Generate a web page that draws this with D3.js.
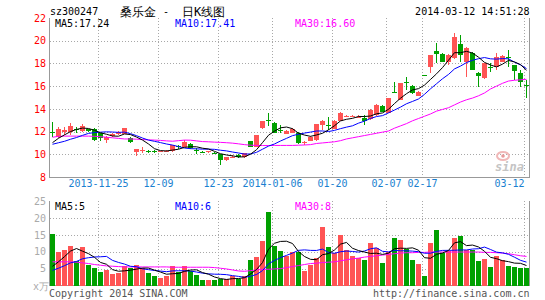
<!DOCTYPE html>
<html><head><meta charset="utf-8">
<script src="https://cdn.jsdelivr.net/npm/d3@7"></script>
<style>
html,body{margin:0;padding:0;background:#fff;}
svg{display:block;}
text{font-family:"DejaVu Sans Mono","Liberation Mono",monospace;}
</style></head><body>
<svg id="chart" width="545" height="300"></svg>
<script>
const dates = [
"2013-11-13","2013-11-14","2013-11-15","2013-11-18","2013-11-19","2013-11-20","2013-11-21","2013-11-22","2013-11-25","2013-11-26",
"2013-11-27","2013-11-28","2013-11-29","2013-12-02","2013-12-03","2013-12-04","2013-12-05","2013-12-06","2013-12-09","2013-12-10",
"2013-12-11","2013-12-12","2013-12-13","2013-12-16","2013-12-17","2013-12-18","2013-12-19","2013-12-20","2013-12-23","2013-12-24",
"2013-12-25","2013-12-26","2013-12-27","2013-12-30","2013-12-31","2014-01-02","2014-01-03","2014-01-06","2014-01-07","2014-01-08",
"2014-01-09","2014-01-10","2014-01-13","2014-01-14","2014-01-15","2014-01-16","2014-01-17","2014-01-20","2014-01-21","2014-01-22",
"2014-01-23","2014-01-24","2014-01-27","2014-01-28","2014-01-29","2014-01-30","2014-02-07","2014-02-10","2014-02-11","2014-02-12",
"2014-02-13","2014-02-14","2014-02-17","2014-02-18","2014-02-19","2014-02-20","2014-02-21","2014-02-24","2014-02-25","2014-02-26",
"2014-02-27","2014-02-28","2014-03-03","2014-03-04","2014-03-05","2014-03-06","2014-03-07","2014-03-10","2014-03-11","2014-03-12"];

const opens = [
11.97,11.55,11.95,12.00,12.25,12.08,12.20,12.20,11.85,11.30,
11.65,11.75,11.80,11.40,10.23,10.35,10.27,10.25,10.22,10.23,
10.28,10.75,10.62,10.90,10.35,10.20,10.20,10.15,10.00,9.50,
9.75,9.94,9.75,11.17,10.67,12.29,13.05,12.73,12.16,11.80,
11.90,11.85,10.95,11.20,11.30,12.60,12.55,12.23,12.96,13.33,
13.33,13.28,13.17,13.08,13.46,14.25,13.65,15.45,14.80,16.37,
16.00,15.16,17.00,17.71,19.10,18.80,18.15,18.45,19.70,18.15,
18.90,17.20,16.70,17.65,17.71,18.15,18.56,17.86,17.13,16.12];
const highs = [
12.87,12.38,12.38,12.78,12.38,12.64,12.25,12.29,11.90,11.60,
11.90,12.05,12.35,11.55,10.50,10.67,10.40,10.38,10.32,10.38,
10.85,10.80,11.26,11.00,10.55,10.30,10.32,10.20,10.05,9.80,
9.90,10.00,10.15,11.20,11.72,12.95,13.60,12.80,12.60,12.10,
12.35,11.95,11.20,11.60,12.70,13.00,13.30,13.00,13.75,13.50,
13.45,13.50,13.45,13.95,14.40,14.30,14.95,16.34,16.30,16.80,
16.10,15.55,17.00,18.78,19.77,18.90,18.80,20.70,20.50,19.45,
19.00,17.25,18.05,18.00,18.95,18.70,19.18,17.90,17.40,16.54];
const lows = [
11.50,11.45,11.70,11.70,11.85,11.94,11.95,11.17,11.20,11.00,
11.50,11.70,11.75,11.02,9.88,10.09,10.10,10.10,10.18,10.20,
10.20,10.50,10.60,10.50,10.05,10.10,10.15,10.00,9.06,9.45,
9.70,9.70,9.70,10.60,10.60,12.25,12.50,11.85,11.85,11.75,
11.85,10.90,10.85,11.15,11.20,12.15,12.15,12.20,12.90,13.25,
13.30,13.20,12.60,13.00,13.40,13.70,13.60,15.37,14.75,15.70,
15.35,15.10,16.95,17.20,18.00,18.10,17.85,18.40,18.15,16.80,
17.40,15.95,16.60,17.27,17.42,18.10,17.71,16.54,15.95,14.98];
const closes = [
11.92,12.23,12.10,12.49,12.20,12.52,12.05,11.30,11.40,11.55,
11.75,11.95,12.30,11.12,10.47,10.42,10.23,10.22,10.28,10.32,
10.80,10.60,11.06,10.55,10.30,10.17,10.25,10.03,9.50,9.74,
9.80,9.75,10.09,10.67,11.70,12.93,13.00,11.90,12.12,12.05,
12.20,11.00,11.10,11.55,12.65,12.95,12.50,12.93,13.66,13.37,
13.37,13.32,12.90,13.90,14.34,13.75,14.93,15.42,16.25,16.33,
15.40,15.50,16.98,18.74,18.80,18.15,18.74,20.30,18.74,19.39,
17.42,16.90,18.00,17.60,18.54,18.65,18.52,17.36,16.40,16.08];
const volumes = [
15.3,9.8,10.6,11.7,7.3,11.4,6.1,5.2,4.1,4.6,
3.5,3.7,5.8,5.1,6.1,5.1,3.7,2.7,2.3,2.9,
5.8,4.1,5.8,4.3,3.2,1.7,1.7,1.7,1.9,1.9,
2.9,1.9,2.9,7.6,8.3,13.2,21.7,11.7,10.3,8.6,
9.8,9.9,4.3,6.1,8.1,17.2,11.5,9.6,14.8,10.6,
8.6,8.1,7.4,12.7,11.0,6.8,9.9,14.0,13.5,10.7,
7.6,6.4,2.9,12.7,16.5,9.6,10.1,14.2,14.5,10.6,
10.4,7.3,7.8,5.6,8.6,7.4,5.9,5.6,5.3,5.3];
// closes / volumes of the 9 sessions before the window (estimated from the MA lines' start)
const priorCloses = [10.9,10.8,10.7,10.7,10.6,10.3,10.6,11.05,11.25];
const priorVolumes = [3.5,3.0,3.5,3.0,3.5,3.0,3.0,3.5,3.5];
// 30-day averages
const priceMA30 = [
11.50,11.58,11.60,11.60,11.60,11.60,11.60,11.58,11.55,11.50,
11.45,11.40,11.35,11.35,11.33,11.30,11.27,11.25,11.22,11.18,
11.15,11.20,11.25,11.24,11.18,11.12,11.10,11.07,11.05,11.02,
10.98,10.92,10.85,10.80,10.78,10.77,10.77,10.78,10.78,10.78,
10.78,10.80,10.82,10.85,10.95,11.00,11.05,11.10,11.20,11.35,
11.45,11.55,11.65,11.75,11.85,11.95,12.05,12.30,12.50,12.70,
12.95,13.15,13.35,13.55,13.80,13.95,14.10,14.35,14.60,14.80,
14.95,15.15,15.40,15.75,16.00,16.25,16.45,16.52,16.56,16.60];
const volumeMA30 = [
7.0,7.0,7.0,7.0,6.9,6.7,6.5,6.2,6.0,5.8,
5.7,5.6,5.5,5.5,5.5,5.5,5.5,5.5,5.5,5.5,
5.4,5.4,5.4,5.4,5.4,5.4,5.4,5.3,5.1,4.9,
4.6,4.3,4.2,4.4,4.6,4.8,4.8,4.9,5.0,5.3,
5.6,5.9,6.2,6.5,6.6,6.8,6.9,7.0,7.3,7.6,
7.9,8.1,8.4,8.6,8.8,9.0,9.2,9.4,9.6,9.7,
9.7,9.8,9.8,9.9,9.9,9.9,9.9,9.9,9.9,9.9,
9.9,9.9,9.8,9.8,9.7,9.6,9.4,9.1,8.8,8.6];

const dateTicks = ["2013-11-25","2013-12-09","2013-12-23","2014-01-06","2014-01-20","2014-02-07","2014-02-17","2014-03-12"];
const dateTickLabels = ["2013-11-25","12-09","12-23","2014-01-06","01-20","02-07","02-17","03-12"];
const priceTicks = [8,10,12,14,16,18,20,22];
const priceGrid = [10,12,14,16,18,20];
const volumeTicks = [5,10,15,20,25];
const volumeGrid = [5,10,15,20];

const priceLegend = ["MA5:17.24","MA10:17.41","MA30:16.60"];
const volumeLegend = ["MA5:5","MA10:6","MA30:8"];

const RED = "#ff5454", GREEN = "#00a000", GRID = "#a8a8a8", AXIS = "#999";
const MA5_COLOR = "#000000", MA10_COLOR = "#0000ff", MA30_COLOR = "#ff00ff";
const LEGEND_COLORS = [MA5_COLOR, MA10_COLOR, MA30_COLOR];

const svg = d3.select("#chart");
const L = 49.5, R = 529.5;
const x = d3.scaleBand().domain(dates).range([50, 529]).paddingInner(1/6).paddingOuter(0);
const yP = d3.scaleLinear().domain([8,22]).range([177, 18]);
const yV = d3.scaleLinear().domain([0,25]).range([285.5, 201]);
const cx = d => x(d) + 2.5;

function movingAvg(prior, vals, n) {
  const all = prior.concat(vals);
  return vals.map((v, i) => {
    const end = i + prior.length;
    return d3.mean(all.slice(end - n + 1, end + 1));
  });
}
const pMA5 = movingAvg(priorCloses, closes, 5);
const pMA10 = movingAvg(priorCloses, closes, 10);
const vMA5 = movingAvg(priorVolumes, volumes, 5);
const vMA10 = movingAvg(priorVolumes, volumes, 10);

function panel(y, top, bottom, gridVals, ticks, tickColor) {
  const hg = svg.append("g").attr("transform", `translate(${L},0)`)
    .call(d3.axisLeft(y).tickValues(gridVals).tickSize(-(R - L)).tickFormat(""));
  hg.select(".domain").remove();
  hg.selectAll("line").attr("stroke", GRID).attr("stroke-dasharray", "1,2").attr("shape-rendering","crispEdges");
  const vg = svg.append("g").attr("transform", `translate(-2,${bottom})`)
    .call(d3.axisBottom(x).tickValues(dateTicks).tickSize(-(bottom - top)).tickFormat(""));
  vg.select(".domain").remove();
  vg.selectAll("line").attr("stroke", GRID).attr("stroke-dasharray", "1,2").attr("shape-rendering","crispEdges");
  const ya = svg.append("g").attr("transform", `translate(${L},0)`)
    .call(d3.axisLeft(y).tickValues(ticks).tickSize(0).tickPadding(3.5));
  ya.select(".domain").remove();
  ya.selectAll("text").attr("fill", tickColor).attr("font-size", 10)
    .attr("font-family", '"DejaVu Sans Mono",monospace');
  svg.append("path").attr("d", `M${L},${top}V${bottom}H${R}V${top}`)
    .attr("fill","none").attr("stroke", AXIS).attr("stroke-width",1).attr("shape-rendering","crispEdges");
}

panel(yP, 18, 177.5, priceGrid, priceTicks, "#ff0000");
panel(yV, 201, 285.5, volumeGrid, volumeTicks, "#aaaaaa");

// date labels
const xa = svg.append("g").attr("transform", `translate(-2,177)`)
  .call(d3.axisBottom(x).tickValues(dateTicks).tickSize(0).tickPadding(3)
    .tickFormat(d => dateTickLabels[dateTicks.indexOf(d)]));
xa.select(".domain").remove();
xa.selectAll("text").attr("fill", "#1a7fd0").attr("font-size", 10)
  .attr("font-family", '"DejaVu Sans Mono",monospace')
  .attr("text-anchor", (d, i) => i === dateTicks.length - 1 ? "end" : "middle");

// watermark
const wm = svg.append("g");
wm.append("ellipse").attr("cx", 503).attr("cy", 156).attr("rx", 6).attr("ry", 4)
  .attr("fill","none").attr("stroke","#f0b8b8").attr("stroke-width",2);
wm.append("circle").attr("cx", 503).attr("cy", 156).attr("r", 1.8).attr("fill","#e89a9a");
wm.append("text").attr("x", 495).attr("y", 171).attr("font-size", 12).attr("font-style","italic")
  .attr("font-weight","bold").attr("fill","#c4c4c4").attr("font-family","'DejaVu Sans',sans-serif").text("sina");

// candles
const idx = d3.range(dates.length);
const up = i => closes[i] >= opens[i];
const cg = svg.append("g");
cg.selectAll("line").data(idx).join("line")
  .attr("x1", i => cx(dates[i])).attr("x2", i => cx(dates[i]))
  .attr("y1", i => Math.round(yP(highs[i]))).attr("y2", i => Math.round(yP(lows[i])))
  .attr("stroke", i => up(i) ? RED : GREEN).attr("stroke-width", 1);
cg.selectAll("rect").data(idx).join("rect")
  .attr("x", i => x(dates[i])).attr("width", x.bandwidth())
  .attr("y", i => Math.round(yP(Math.max(opens[i], closes[i]))))
  .attr("height", i => Math.max(1, Math.round(yP(Math.min(opens[i], closes[i]))) - Math.round(yP(Math.max(opens[i], closes[i])))))
  .attr("fill", i => up(i) ? RED : GREEN).attr("shape-rendering","crispEdges");

// volume bars
svg.append("g").selectAll("rect").data(idx).join("rect")
  .attr("x", i => x(dates[i])).attr("width", x.bandwidth())
  .attr("y", i => Math.round(yV(volumes[i])))
  .attr("height", i => Math.round(yV(0)) - Math.round(yV(volumes[i])))
  .attr("fill", i => up(i) ? RED : GREEN).attr("shape-rendering","crispEdges");

// MA lines
function drawLine(s, y, color) {
  const line = d3.line().x((v, i) => cx(dates[i])).y(v => y(v));
  svg.append("path").datum(s).attr("d", line)
    .attr("fill","none").attr("stroke", color).attr("stroke-width", 1);
}
drawLine(priceMA30, yP, MA30_COLOR);
drawLine(pMA10, yP, MA10_COLOR);
drawLine(pMA5, yP, MA5_COLOR);
drawLine(volumeMA30, yV, MA30_COLOR);
drawLine(vMA10, yV, MA10_COLOR);
drawLine(vMA5, yV, MA5_COLOR);

// legends
const legendX = [55, 175, 295];
function legend(texts, y) {
  texts.forEach((t, k) => svg.append("text").attr("x", legendX[k]).attr("y", y)
    .attr("font-size", 10).attr("fill", LEGEND_COLORS[k]).text(t));
}
legend(priceLegend, 27);
legend(volumeLegend, 210);

// headers and footers
svg.append("text").attr("x", 50).attr("y", 15).attr("font-size", 10).attr("fill","#000").text("sz300247");
const titleFont = '"Noto Sans CJK SC",sans-serif';
svg.append("text").attr("x", 120).attr("y", 15.5).attr("font-size", 12).attr("font-family", titleFont).attr("fill","#000").text("桑乐金");
svg.append("text").attr("x", 163).attr("y", 15).attr("font-size", 10).attr("fill","#000").text("-");
svg.append("text").attr("x", 182).attr("y", 15.5).attr("font-size", 12).attr("font-family", titleFont).attr("fill","#000").text("日K线图");
svg.append("text").attr("x", 529.5).attr("y", 15).attr("text-anchor","end").attr("font-size", 10).attr("fill","#000").text("2014-03-12 14:51:28");
svg.append("text").attr("x", 33).attr("y", 289.5).attr("font-size", 10).attr("font-family",'"Noto Sans CJK SC","DejaVu Serif",serif').attr("fill","#aaa").text("x万");
svg.append("text").attr("x", 49).attr("y", 296.5).attr("font-size", 10).attr("fill","#555").text("Copyright 2014 SINA.COM");
svg.append("text").attr("x", 529.5).attr("y", 296.5).attr("text-anchor","end").attr("font-size", 10).attr("fill","#555").text("http://finance.sina.com.cn");
</script>
</body></html>
